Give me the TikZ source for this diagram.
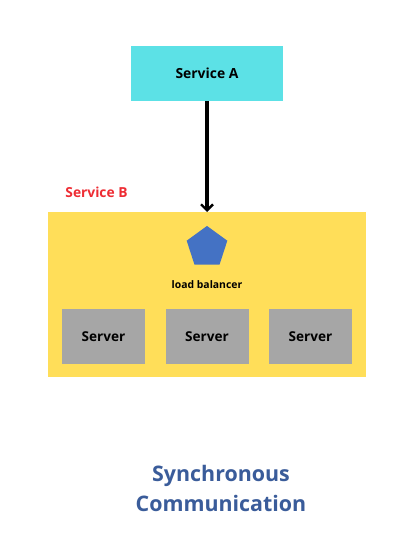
\documentclass[tikz,border=0pt]{standalone}
\usepackage{fontspec}
\setmainfont{Open Sans}
\usetikzlibrary{shapes.geometric,arrows.meta}
\definecolor{cyanbox}{HTML}{5CE1E6}
\definecolor{yellowbox}{HTML}{FFDE59}
\definecolor{greybox}{HTML}{A6A6A6}
\definecolor{bluepent}{HTML}{4472C4}
\definecolor{titleblue}{HTML}{3A5C9A}
\definecolor{redlabel}{HTML}{EE2C33}
\tikzset{
  x=1pt,y=-1pt,
  box/.style={draw=none,inner sep=0,outer sep=0,minimum width=83pt,minimum height=55pt,fill=greybox,font=\bfseries\fontsize{13.6}{14}\selectfont},
  conn/.style={line width=3.4pt,-{Straight Barb[length=6pt,width=12pt,line width=2.4pt]}}
}
\begin{document}
\begin{tikzpicture}
\useasboundingbox (0,0) rectangle (405,537);
\fill[white] (0,0) rectangle (405,537);
\node[box,fill=cyanbox,minimum width=152pt,minimum height=55pt,font=\bfseries\fontsize{13.9}{14}\selectfont] (a) at (207,73.5) {Service A};
\node[inner sep=0,outer sep=0,minimum width=318pt,minimum height=165pt,fill=yellowbox] (b) at (207,294.5) {};
\node[font=\bfseries\fontsize{13.8}{14}\selectfont,text=redlabel] (lb) at (96.5,192) {Service B};
\node[regular polygon,regular polygon sides=5,fill=bluepent,draw=none,inner sep=0,minimum size=42.7pt] (p) at (207,247.3) {};
\node[font=\bfseries\fontsize{10.4}{11}\selectfont] (lbl) at (207,285) {load balancer};
\node[box] (s1) at (103.5,336.5) {Server};
\node[box] (s2) at (207,336.5) {Server};
\node[box] (s3) at (310.5,336.5) {Server};
\node[font=\bfseries\fontsize{21.4}{29.5}\selectfont,text=titleblue,align=center] (t) at (221,488.5) {Synchronous\\Communication};
\draw[conn] (a.south) -- (b.north);
\end{tikzpicture}
\end{document}
